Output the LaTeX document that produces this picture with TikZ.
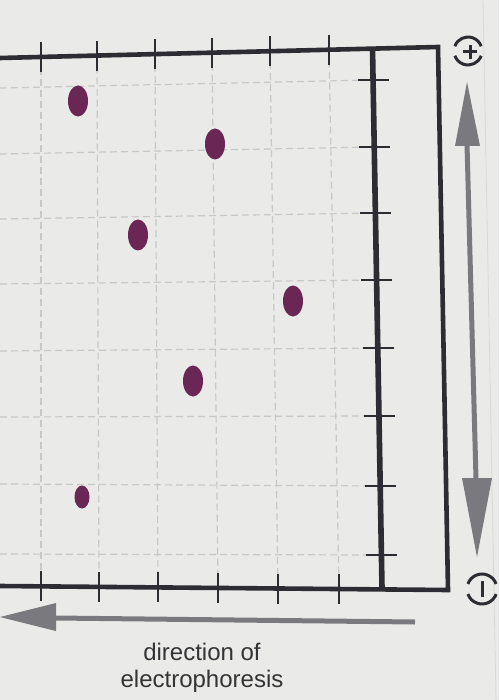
\documentclass[tikz,border=0pt]{standalone}
\usepackage{fontspec}
\newfontfamily\capfont{Liberation Sans}
\definecolor{paper}{RGB}{234,234,232}
\definecolor{ink}{RGB}{44,44,50}
\definecolor{gridgray}{RGB}{200,200,200}
\definecolor{arrowgray}{RGB}{122,122,126}
\definecolor{spotpurple}{RGB}{106,38,84}
\definecolor{labelgray}{RGB}{52,52,54}
\begin{document}
\begin{tikzpicture}[x=1pt,y=-1pt,
	gridline/.style={gridgray,line width=1.2pt,dash pattern=on 7pt off 4pt},
	frameline/.style={ink,line width=4.6pt},
	tickmark/.style={ink,line width=2.6pt},
	spot/.style={fill=spotpurple},
	shaft/.style={arrowgray,line width=5pt},
	head/.style={fill=arrowgray},
	sign/.style={ink,line width=3pt}]
	    \fill[paper] (0,0) rectangle (499,700);
	    \useasboundingbox (0,0) rectangle (499,700);
	    \draw[gray!30,line width=0.8pt] (483,0) -- (496,700);
	    \foreach \xt/\yt/\xb/\yb in {41/57/41/586.4, 97/55.6/99/586.9, 155/54.1/158/587.4, 212/52.7/218/587.9, 270/51.2/278/588.5, 329/49.7/339/589}
	        \draw[gridline] (\xt,\yt) -- (\xb,\yb);
	    \foreach \yl/\xr/\yr in {88/372.6/80, 154/373.8/147, 219/375/213, 284/376.3/280, 351/377.5/348, 417/378.8/416, 484/380.1/486, 554/381.4/555}
	        \draw[gridline] (0,\yl) -- (\xr,\yr);
	    \draw[frameline] (0,58) -- (438,47) -- (448,590) -- (0,586);
	    \draw[frameline,line width=5.6pt] (372.5,48.5) -- (382,588);
	    \foreach \x/\y in {41/57, 97/55.6, 155/54.1, 212/52.7, 270/51.2, 329/49.7, 41/586.4, 99/586.9, 158/587.4, 218/587.9, 278/588.5, 339/589}
	        \draw[tickmark] (\x,\y-15) -- (\x,\y+15);
	    \foreach \x/\y in {372.6/80, 373.8/147, 375/213, 376.3/280, 377.5/348, 378.8/416, 380.1/486, 381.4/555}
	        \draw[tickmark] (\x-15,\y) -- (\x+16,\y);
	    \fill[spot] (78,101) ellipse[x radius=10,y radius=15.5];
	    \fill[spot] (215,144) ellipse[x radius=10,y radius=15.5];
	    \fill[spot] (138,235) ellipse[x radius=10,y radius=15.5];
	    \fill[spot] (293,301) ellipse[x radius=10,y radius=15.5];
	    \fill[spot] (193,381) ellipse[x radius=10,y radius=15.5];
	    \fill[spot] (82,497) ellipse[x radius=7.5,y radius=11.5];
	    \draw[shaft] (55,618) -- (415,622);
	    \fill[head] (0,617) -- (56,603) -- (56,631) -- cycle;
	    \draw[shaft] (467,144) -- (476,479);
	    \fill[head] (467,82) -- (455,146) -- (480,146) -- cycle;
	    \fill[head] (462,478) -- (492,478) -- (477,557) -- cycle;
	    \draw[sign] (468,51) ++(200:14) arc[start angle=200,end angle=340,radius=14];
	    \draw[sign] (468,51) ++(20:14) arc[start angle=20,end angle=160,radius=14];
	    \draw[sign] (463,52) -- (477,52) (470,45) -- (470,59);
	    \draw[sign] (482,589) ++(200:15) arc[start angle=200,end angle=340,radius=15];
	    \draw[sign] (482,589) ++(20:15) arc[start angle=20,end angle=160,radius=15];
	    \draw[sign] (482,581) -- (482,597);
	    \node[font=\capfont\fontsize{24}{26.5}\selectfont,text=labelgray,align=center] (caption) at (202,668) {direction of\\electrophoresis};
	\end{tikzpicture}
\end{document}
